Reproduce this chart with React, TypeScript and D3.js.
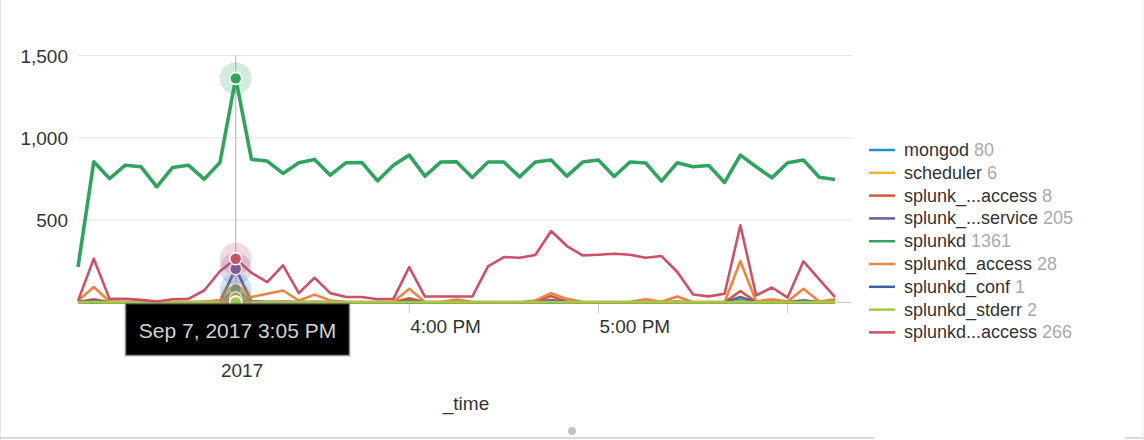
import React from 'react';
import * as d3 from 'd3';

const times = [
  "14:15","14:20","14:25","14:30","14:35","14:40","14:45","14:50","14:55","15:00",
  "15:05","15:10","15:15","15:20","15:25","15:30","15:35","15:40","15:45","15:50",
  "15:55","16:00","16:05","16:10","16:15","16:20","16:25","16:30","16:35","16:40",
  "16:45","16:50","16:55","17:00","17:05","17:10","17:15","17:20","17:25","17:30",
  "17:35","17:40","17:45","17:50","17:55","18:00","18:05","18:10","18:15"
];

const mongod = [
  1,5,1,1,1,1,1,1,1,2,
  80,2,1,1,1,1,1,1,1,1,
  1,3,1,1,1,1,1,1,1,1,
  3,1,1,1,1,1,1,1,1,1,
  1,1,15,1,1,1,3,1,1
];
const scheduler = [
  2,3,2,2,2,2,2,2,2,3,
  6,3,2,2,2,2,2,2,2,2,
  2,4,2,2,2,2,2,2,2,2,
  4,2,2,2,2,2,2,2,2,2,
  2,2,6,2,2,2,4,2,2
];
const splunkAccess = [
  3,20,2,1,1,1,1,1,2,5,
  8,4,3,5,2,3,2,1,1,1,
  1,25,1,1,3,1,1,1,1,2,
  40,5,1,1,1,1,2,1,4,1,
  1,1,70,2,4,1,12,2,4
];
const splunkService = [
  2,10,1,1,1,1,1,1,2,5,
  205,8,2,3,1,2,1,1,1,1,
  1,10,1,1,2,1,1,1,1,1,
  15,3,1,1,1,1,1,1,2,1,
  1,1,33,2,3,1,12,1,3
];
const splunkd = [
  215,855,753,834,824,702,820,834,749,850,
  1361,869,859,784,849,869,773,849,850,739,
  834,895,767,853,855,759,853,853,763,853,
  865,767,853,865,765,853,847,737,849,824,
  832,729,895,824,757,849,865,761,747
];
const splunkdAccess = [
  10,94,6,2,2,2,2,2,5,15,
  28,33,53,73,12,48,12,3,3,3,
  3,83,3,3,18,3,2,2,2,12,
  57,22,3,3,3,5,20,5,37,2,
  2,3,251,6,20,6,83,6,20
];
const splunkdConf = [
  0,1,0,0,0,0,0,0,0,1,
  1,0,0,0,0,0,0,0,0,0,
  0,1,0,0,0,0,0,0,0,0,
  1,0,0,0,0,0,0,0,0,0,
  0,0,1,0,0,0,1,0,0
];
const splunkdStderr = [
  1,2,1,1,1,1,1,1,1,1,
  2,1,1,1,1,1,1,1,1,1,
  1,2,1,1,1,1,1,1,1,1,
  2,1,1,1,1,1,1,1,1,1,
  1,1,2,1,1,1,2,1,1
];
const splunkdUiAccess = [
  10,266,22,22,16,6,20,22,73,190,
  266,180,124,225,57,150,57,33,33,20,
  22,215,36,36,36,36,219,276,272,288,
  434,343,286,290,296,290,272,282,185,49,
  37,53,469,43,91,30,250,140,32
];

const seriesNames = [
  "mongod","scheduler","splunk_...access","splunk_...service","splunkd",
  "splunkd_access","splunkd_conf","splunkd_stderr","splunkd...access"
];
const seriesValues = [
  mongod, scheduler, splunkAccess, splunkService, splunkd,
  splunkdAccess, splunkdConf, splunkdStderr, splunkdUiAccess
];
const seriesColors = [
  "#1e93c6","#f2b827","#d6563c","#6a5c9e","#31a35f",
  "#ed8440","#3863a0","#a2cc3e","#cc5068"
];
const yTicks = [500, 1000, 1500];
const hoverIndex = 10;
const xAxisTitle = "_time";

const parseT = (s: string) => {
  const [h, m] = s.split(":").map(Number);
  return new Date(2017, 8, 7, h, m);
};

export default function App() {
  const dates = times.map(parseT);
  const x = d3.scaleTime().domain([dates[0], dates[dates.length - 1]]).range([78, 835]);
  const y = d3.scaleLinear().domain([0, 1500]).range([302.5, 55.5]);
  const gridRight = 852;
  const line = d3.line<number>()
    .x((_, i) => x(dates[i]))
    .y((v) => y(v));
  const xTicks = x.ticks(d3.timeHour.every(1) as any);
  const fmtTime = d3.timeFormat("%-I:%M %p");
  const fmtTip = d3.timeFormat("%b %-d, %Y %-I:%M %p");
  const hx = x(dates[hoverIndex]);
  const font = "'Liberation Sans', Arial, sans-serif";
  const legendY0 = 150;
  const legendStep = 22.8;

  return (
    <svg width={1144} height={440} style={{ position: 'absolute', left: 0, top: 0, background: '#fff' }} fontFamily={font}>
      {/* frame */}
      <line x1={0.5} x2={0.5} y1={0} y2={440} stroke="#e4e4e4" />
      <line x1={0} x2={874} y1={438} y2={438} stroke="#cfcfcf" strokeWidth={1.5} />
      <line x1={1125} x2={1144} y1={438} y2={438} stroke="#cfcfcf" strokeWidth={1.5} />
      <line x1={1143} x2={1143} y1={0} y2={440} stroke="#eeeeee" />
      <circle cx={572} cy={431} r={4} fill="#c4c4c4" />

      {/* gridlines */}
      {yTicks.map((t) => (
        <g key={t}>
          <line x1={78} x2={gridRight} y1={y(t)} y2={y(t)} stroke="#e3e3e3" strokeWidth={1} />
          <text x={68} y={y(t) + 7} textAnchor="end" fontSize={19} fill="#333">{d3.format(",")(t)}</text>
        </g>
      ))}

      {/* x axis */}
      <line x1={78} x2={gridRight} y1={302.5} y2={302.5} stroke="#cccccc" />
      {xTicks.map((t, i) => {
        const tx = x(t);
        // first tick's time and date lines sit under the tooltip; only the year shows
        const lines: [string, number][] = i === 0
          ? [[d3.timeFormat("%Y")(t), 2]]
          : (tx < 780 ? [[fmtTime(t), 0]] : []);
        return (
          <g key={i}>
            <line x1={tx} x2={tx} y1={303} y2={313} stroke="#cccccc" />
            {lines.map(([l, j]) => (
              <text key={j} x={tx + 1} y={333 + j * 22} fontSize={19} fill="#333">{l}</text>
            ))}
          </g>
        );
      })}
      <text x={466} y={410} textAnchor="middle" fontSize={19} fill="#333">{xAxisTitle}</text>

      {/* crosshair */}
      <line x1={hx} x2={hx} y1={55.5} y2={302.5} stroke="#bdbdbd" strokeWidth={1.2} />

      {/* series */}
      {seriesValues.map((vals, k) => (
        <path key={k} d={line(vals) || ''} fill="none" stroke={seriesColors[k]}
          strokeWidth={seriesNames[k] === "splunkd" ? 3.6 : 2.6} strokeLinejoin="round" />
      ))}

      {/* hover markers */}
      {seriesValues.map((vals, k) => (
        <g key={k}>
          <circle cx={hx} cy={y(vals[hoverIndex])} r={16} fill={seriesColors[k]} opacity={0.22} />
          <circle cx={hx} cy={y(vals[hoverIndex])} r={6} fill={seriesColors[k]} stroke="#fff" strokeWidth={1.6} />
        </g>
      ))}

      {/* tooltip */}
      <rect x={124} y={302} width={227} height={55} fill="#9a9a9a" opacity={0.35} />
      <rect x={126} y={304} width={223} height={51} fill="#000" stroke="#444" strokeWidth={1} />
      <text x={237.5} y={338} textAnchor="middle" fontSize={21} fill="#d0d0d0">{fmtTip(dates[hoverIndex])}</text>

      {/* legend */}
      {seriesNames.map((n, k) => {
        const ly = legendY0 + k * legendStep;
        return (
          <g key={n}>
            <line x1={869} x2={895} y1={ly} y2={ly} stroke={seriesColors[k]} strokeWidth={2.5} />
            <text x={904} y={ly + 6} fontSize={18} fill="#333">
              {n}
              <tspan fill="#aaaaaa">{" " + seriesValues[k][hoverIndex]}</tspan>
            </text>
          </g>
        );
      })}
    </svg>
  );
}
